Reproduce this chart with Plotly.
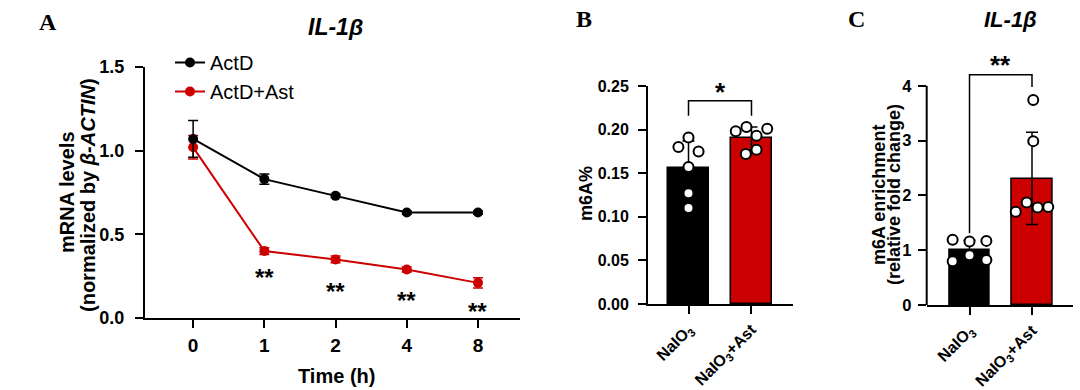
import plotly.graph_objects as go

# ---------------- data ----------------
time_labels = ["0", "1", "2", "4", "8"]
actd_mean = [1.07, 0.83, 0.73, 0.63, 0.63]
actd_sd = [0.11, 0.03, 0.01, 0.01, 0.01]
ast_mean = [1.02, 0.40, 0.35, 0.29, 0.21]
ast_sd = [0.07, 0.02, 0.02, 0.015, 0.03]
sig_a_idx = [1, 2, 3, 4]
sig_a_y = [0.269, 0.191, 0.137, 0.066]

group_labels = ["NaIO<sub>3</sub>", "NaIO<sub>3</sub>+Ast"]
bar_colors = ["#000000", "#cc0000"]

b_mean = [0.156, 0.190]
b_sd = [0.031, 0.013]
b_pts_ctrl = [0.191, 0.180, 0.175, 0.157, 0.127, 0.110]
b_off_ctrl = [0.0, -0.16, 0.16, 0.0, 0.0, 0.0]
b_pts_ast = [0.198, 0.203, 0.201, 0.193, 0.172, 0.177]
b_off_ast = [-0.25, -0.08, 0.25, 0.08, -0.09, 0.08]
b_bracket = [0.216, 0.233, 0.216]
b_star_y = 0.249

c_mean = [1.0, 2.31]
c_sd = [0.18, 0.84]
c_pts_ctrl = [1.19, 1.16, 1.17, 0.91, 0.80, 0.82]
c_off_ctrl = [-0.27, 0.0, 0.27, 0.0, -0.27, 0.27]
c_pts_ast = [3.74, 2.99, 1.70, 1.87, 1.78, 1.79]
c_off_ast = [0.02, 0.02, -0.26, -0.085, 0.09, 0.26]
c_bracket = [1.31, 4.20, 3.98]
c_star_y = 4.47

FONT = "Liberation Sans, Arial, sans-serif"
SERIF = "Liberation Serif, Times New Roman, serif"
RED = "#cc0000"

fig = go.Figure()

# ---------------- panel A ----------------
fig.add_trace(go.Scatter(
    x=list(range(len(time_labels))), y=ast_mean, name="ActD+Ast", legendrank=2,
    mode="lines+markers", line=dict(color=RED, width=2),
    marker=dict(color=RED, size=10),
    error_y=dict(type="data", array=ast_sd, color=RED, thickness=1.5, width=5),
    xaxis="x", yaxis="y", cliponaxis=False))
fig.add_trace(go.Scatter(
    x=list(range(len(time_labels))), y=actd_mean, name="ActD", legendrank=1,
    mode="lines+markers", line=dict(color="black", width=2),
    marker=dict(color="black", size=10),
    error_y=dict(type="data", array=actd_sd, color="black", thickness=1.5, width=5),
    xaxis="x", yaxis="y", cliponaxis=False))

# ---------------- panel B ----------------
fig.add_trace(go.Bar(
    x=[0, 1], y=b_mean, width=0.65, showlegend=False,
    marker=dict(color=bar_colors, line=dict(color="black", width=1.5)),
    error_y=dict(type="data", array=b_sd, color="black", thickness=1.5, width=6),
    xaxis="x2", yaxis="y2"))
for i, (pts, offs) in enumerate([(b_pts_ctrl, b_off_ctrl), (b_pts_ast, b_off_ast)]):
    fig.add_trace(go.Scatter(
        x=[i + o for o in offs], y=pts, mode="markers", showlegend=False,
        marker=dict(color="white", size=10, line=dict(color="black", width=2)),
        xaxis="x2", yaxis="y2", cliponaxis=False))

# ---------------- panel C ----------------
fig.add_trace(go.Bar(
    x=[0, 1], y=c_mean, width=0.65, showlegend=False,
    marker=dict(color=bar_colors, line=dict(color="black", width=1.5)),
    error_y=dict(type="data", array=c_sd, color="black", thickness=1.5, width=6),
    xaxis="x3", yaxis="y3"))
for i, (pts, offs) in enumerate([(c_pts_ctrl, c_off_ctrl), (c_pts_ast, c_off_ast)]):
    fig.add_trace(go.Scatter(
        x=[i + o for o in offs], y=pts, mode="markers", showlegend=False,
        marker=dict(color="white", size=10, line=dict(color="black", width=2)),
        xaxis="x3", yaxis="y3", cliponaxis=False))

# ---------------- axes ----------------
def ax_common(size):
    return dict(showline=True, linecolor="black", linewidth=2, ticks="outside",
                ticklen=8, tickwidth=2, tickcolor="black", showgrid=False,
                zeroline=False, fixedrange=True, automargin=False,
                tickfont=dict(family=FONT, size=size, color="black", weight="bold"))

fig.update_layout(
    template="none",
    xaxis=dict(**ax_common(19), domain=[145/1080, 520/1080], range=[-0.676, 4.59],
               tickvals=list(range(len(time_labels))), ticktext=time_labels,
               anchor="y", ticklabelstandoff=1),
    yaxis=dict(**ax_common(18), domain=[1-318/390, 1-67/390], range=[0, 1.5],
               tickvals=[0, 0.5, 1.0, 1.5], tickformat=".1f", anchor="x",
               ticklabelstandoff=7),
    xaxis2=dict(**ax_common(16), domain=[648/1080, 793/1080], range=[-0.643, 1.659],
                tickvals=[0, 1], ticktext=group_labels, tickangle=-45, anchor="y2"),
    yaxis2=dict(**ax_common(16), domain=[1-304/390, 1-86/390], range=[0, 0.25],
                tickvals=[0, 0.05, 0.10, 0.15, 0.20, 0.25], tickformat=".2f", anchor="x2",
                ticklabelstandoff=6),
    xaxis3=dict(**ax_common(16), domain=[926.7/1080, 1073/1080], range=[-0.685, 1.656],
                tickvals=[0, 1], ticktext=group_labels, tickangle=-45, anchor="y3"),
    yaxis3=dict(**ax_common(16.5), domain=[1-305/390, 1-52.9/390], range=[0, 4.6],
                tickvals=[0, 1, 2, 3, 4], anchor="x3", ticklabelstandoff=3),
)
fig.update_layout(yaxis3_showline=False)

shapes = [
    # y axis line of panel C (only up to the top tick)
    dict(type="line", xref="x3 domain", yref="y3", x0=0, x1=0, y0=0, y1=4,
         line=dict(color="black", width=2)),
    # significance brackets
    dict(type="path", xref="x2", yref="y2",
         path=f"M 0 {b_bracket[0]} L 0 {b_bracket[1]} L 1 {b_bracket[1]} L 1 {b_bracket[2]}",
         line=dict(color="black", width=1.5)),
    dict(type="path", xref="x3", yref="y3",
         path=f"M 0 {c_bracket[0]} L 0 {c_bracket[1]} L 1 {c_bracket[1]} L 1 {c_bracket[2]}",
         line=dict(color="black", width=1.5)),
]

def txt(text, x, y, size, weight="bold", family=FONT, angle=0, style="normal",
        xref="paper", yref="paper", yshift=0):
    return dict(text=text, x=x, y=y, xref=xref, yref=yref, showarrow=False,
                xanchor="center", yanchor="middle", textangle=angle, yshift=yshift,
                font=dict(family=family, size=size, color="black", weight=weight, style=style))

ann = [
    txt("A", 48/1080, 1-22/390, 24, family=SERIF),
    txt("B", 584/1080, 1-19/390, 24, family=SERIF),
    txt("C", 856/1080, 1-19/390, 24, family=SERIF),
    txt("IL-1β", 335/1080, 1-27/390, 23, style="italic"),
    txt("IL-1β", 1010/1080, 1-19/390, 22, style="italic"),
    txt("mRNA levels", 67/1080, 1-192/390, 20, angle=-90),
    txt("(normalized by <i>β-ACTIN</i>)", 88/1080, 1-195/390, 20, angle=-90),
    txt("Time (h)", 336/1080, 1-376/390, 20),
    txt("m6A%", 586/1080, 1-194/390, 18, angle=-90),
    txt("m6A enrichment", 879/1080, 1-195/390, 18, angle=-90),
    txt("(relative fold change)", 894/1080, 1-194/390, 18, angle=-90),
    txt("*", 0.5, b_star_y, 26, xref="x2", yref="y2", yshift=-5),
    txt("**", 0.5, c_star_y, 26, xref="x3", yref="y3", yshift=-5),
]
for i, yv in zip(sig_a_idx, sig_a_y):
    ann.append(txt("**", i, yv, 24, xref="x", yref="y", yshift=-5))

fig.update_layout(
    width=1080, height=390, margin=dict(l=0, r=0, t=0, b=0, pad=0),
    paper_bgcolor="white", plot_bgcolor="white",
    showlegend=True,
    legend=dict(x=170/1080, y=1-43/390, xanchor="left", yanchor="top",
                bgcolor="rgba(0,0,0,0)", borderwidth=0, tracegroupgap=0,
                font=dict(family=FONT, size=20, color="black")),
    shapes=shapes, annotations=ann, bargap=0,
)

fig.write_html("out.html", config={"displayModeBar": False},
               post_script="document.body.style.margin='0';document.body.style.overflow='hidden';")
